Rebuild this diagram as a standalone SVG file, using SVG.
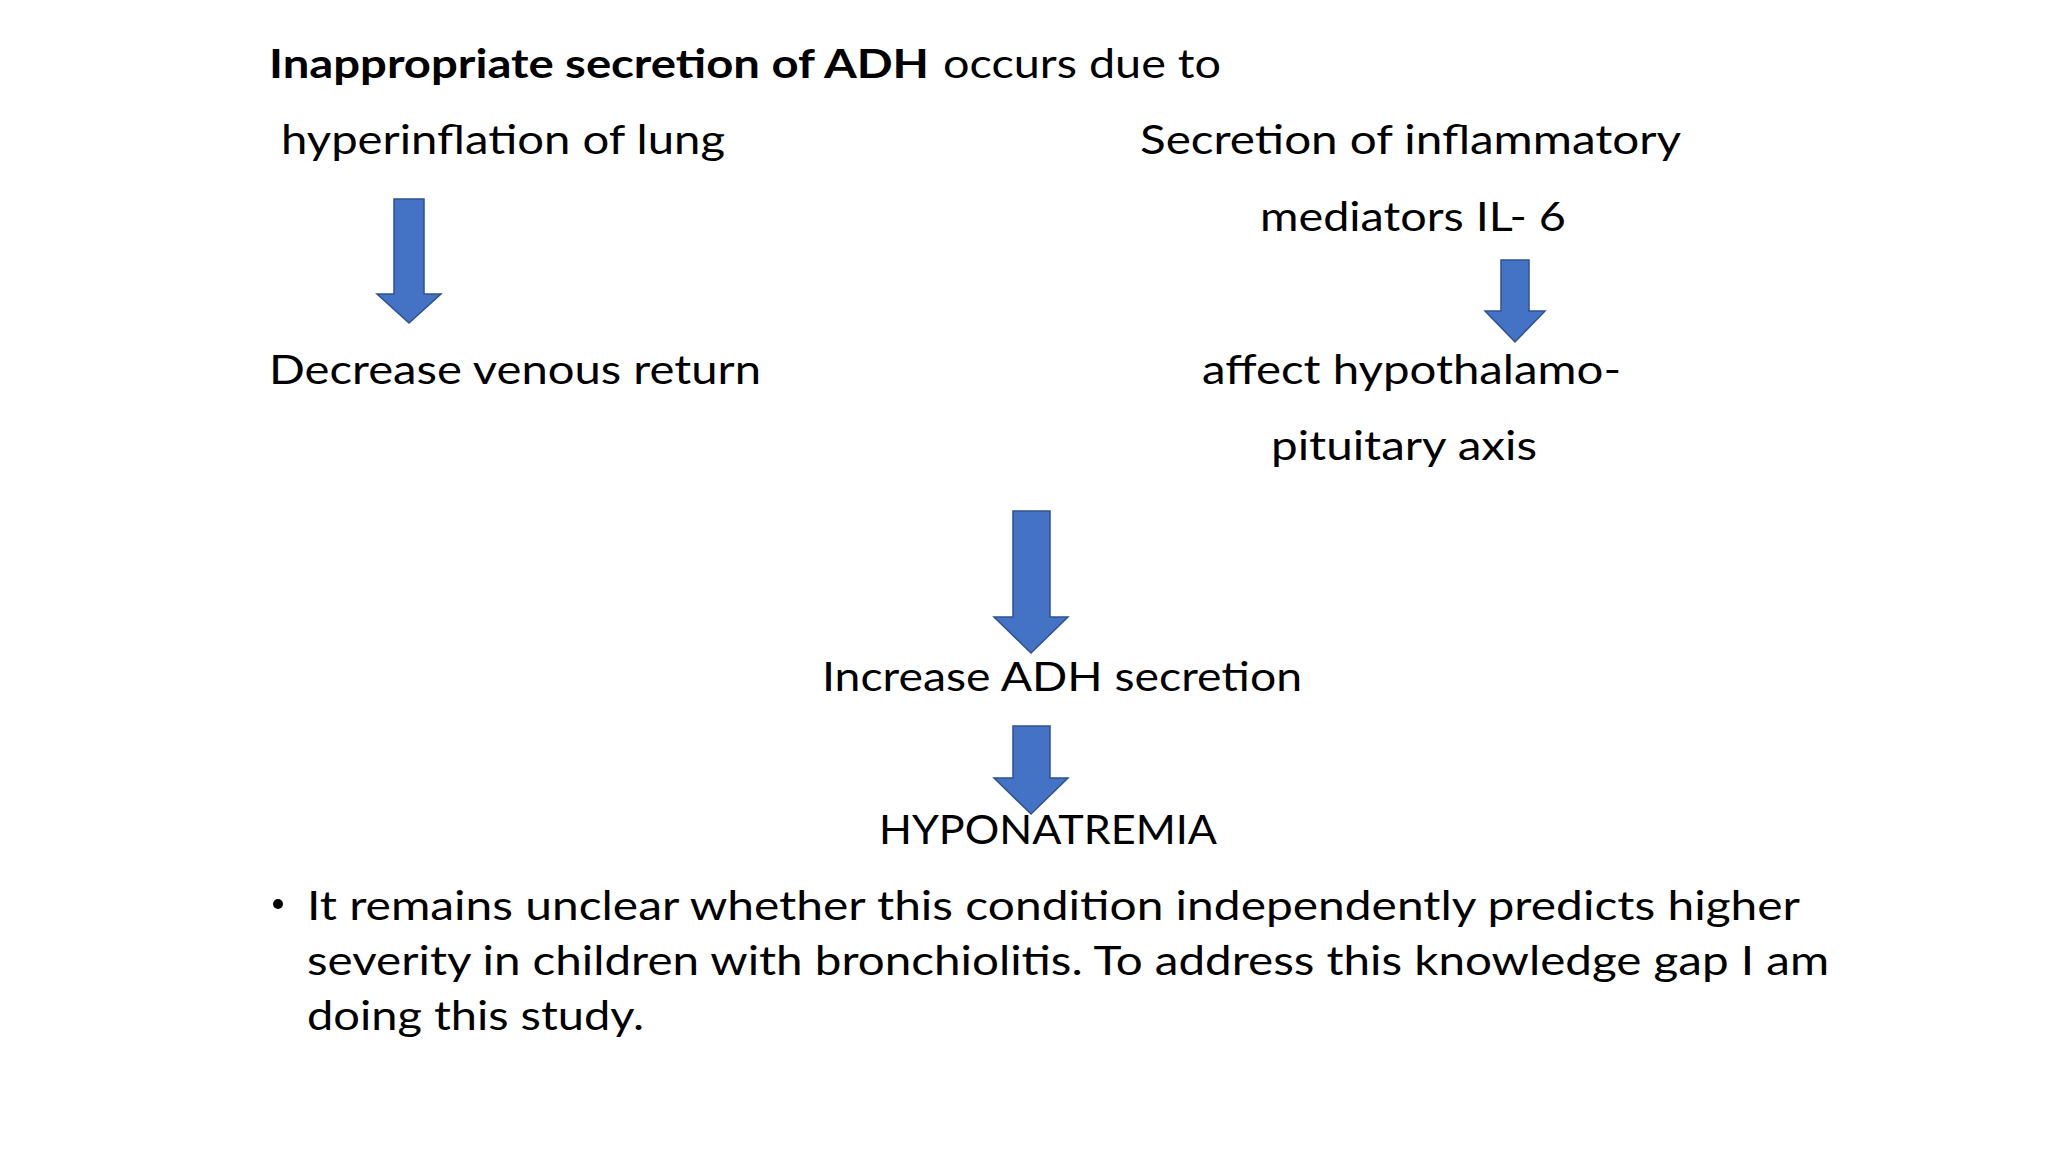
<svg xmlns="http://www.w3.org/2000/svg" width="2048" height="1152" viewBox="0 0 2048 1152">
<style>
.t{font-family:Lato,"Open Sans","Liberation Sans",sans-serif;font-size:41px;fill:#000}
.b{font-weight:bold}
.arrow{fill:#4472C4;stroke:#2F528F;stroke-width:1.5}
</style>
<rect width="2048" height="1152" fill="#fff"/>
<g id="title">
<text class="t b" x="269" y="78" textLength="660" lengthAdjust="spacingAndGlyphs">Inappropriate secretion of ADH</text>
<text class="t" x="943" y="78" textLength="278" lengthAdjust="spacingAndGlyphs">occurs due to</text>
</g>
<g id="node-hyperinflation"><text class="t" x="281" y="154" textLength="444" lengthAdjust="spacingAndGlyphs">hyperinflation of lung</text></g>
<g id="node-secretion">
<text class="t" x="1140" y="154" textLength="541" lengthAdjust="spacingAndGlyphs">Secretion of inflammatory</text>
<text class="t" x="1260" y="231" textLength="306" lengthAdjust="spacingAndGlyphs">mediators IL- 6</text>
</g>
<g id="node-decrease"><text class="t" x="269" y="384" textLength="492" lengthAdjust="spacingAndGlyphs">Decrease venous return</text></g>
<g id="node-affect">
<text class="t" x="1202" y="384" textLength="419" lengthAdjust="spacingAndGlyphs">affect hypothalamo-</text>
<text class="t" x="1271" y="460" textLength="266" lengthAdjust="spacingAndGlyphs">pituitary axis</text>
</g>
<g id="node-increase"><text class="t" x="822" y="691" textLength="480" lengthAdjust="spacingAndGlyphs">Increase ADH secretion</text></g>
<g id="node-hyponatremia"><text class="t" x="879" y="844" textLength="338" lengthAdjust="spacingAndGlyphs">HYPONATREMIA</text></g>
<g id="connectors">
<polygon class="arrow" points="394,199 424,199 424,294 441,294 409,323 377,294 394,294"/>
<polygon class="arrow" points="1501,260 1529,260 1529,311 1545,311 1515,342 1485,311 1501,311"/>
<polygon class="arrow" points="1013,511 1050,511 1050,617 1068,617 1031,653 994,617 1013,617"/>
<polygon class="arrow" points="1013,726 1050,726 1050,778 1068,778 1031,814 994,778 1013,778"/>
</g>
<g id="bullet">
<circle cx="278" cy="904" r="5" fill="#000"/>
<text class="t" x="307" y="920" textLength="1493" lengthAdjust="spacingAndGlyphs">It remains unclear whether this condition independently predicts higher</text>
<text class="t" x="307" y="975" textLength="1522" lengthAdjust="spacingAndGlyphs">severity in children with bronchiolitis. To address this knowledge gap I am</text>
<text class="t" x="307" y="1030" textLength="337" lengthAdjust="spacingAndGlyphs">doing this study.</text>
</g>
</svg>
